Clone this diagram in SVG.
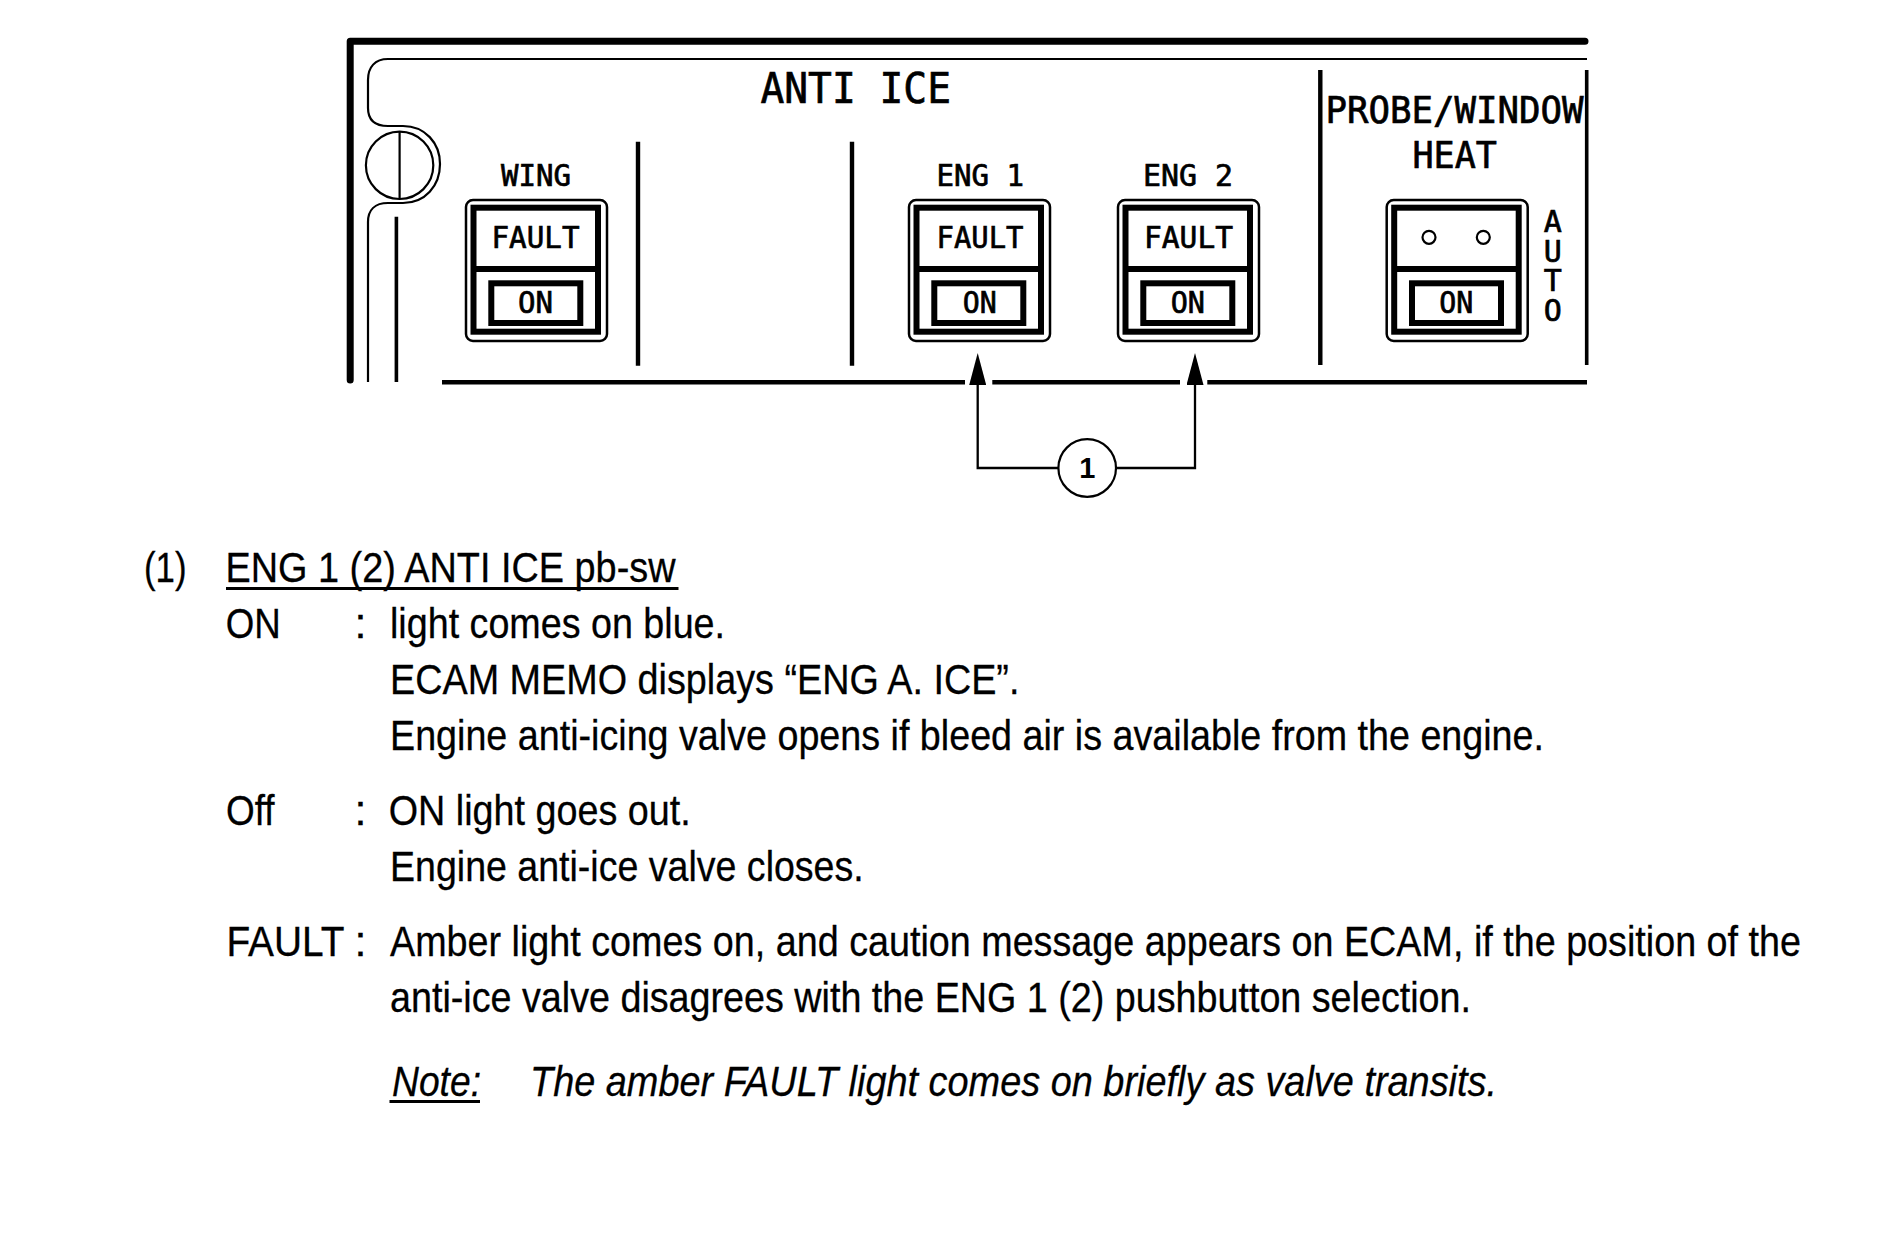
<svg xmlns="http://www.w3.org/2000/svg" xmlns:xlink="http://www.w3.org/1999/xlink" width="1881" height="1240" viewBox="0 0 1881 1240">
<style>
.panel{fill:none;stroke:#000;stroke-linecap:butt}
.thin{stroke-width:2.2}
.th3{stroke-width:3.6}
.th4{stroke-width:4.4}
.th7{stroke-width:7;stroke-linecap:round;stroke-linejoin:round}
.mono{font-family:"DejaVu Sans Mono","Liberation Mono",monospace;fill:#000;stroke:#000;stroke-width:.7}
.lab{font-size:30px}
.body{font-family:"Liberation Sans",Arial,sans-serif;font-size:43px;fill:#000;stroke:#000;stroke-width:.3}
.it{font-style:italic}
.frame{fill:#fff;stroke:#000;stroke-width:2.5}
.heavy{fill:none;stroke:#000;stroke-width:6}
.con{fill:none;stroke:#000;stroke-width:2.3}
</style>
<defs>
<g id="frame">
<rect class="frame" x="466" y="200" width="141" height="141" rx="7"/>
<rect class="heavy" x="473.5" y="207.7" width="124.5" height="124"/>
<path class="heavy" d="M473.5 269H598"/>
<rect class="heavy" x="491.3" y="283.3" width="89" height="39.7"/>
</g>
<marker id="arrow" viewBox="0 -8.5 32 17" refX="0" refY="0" markerUnits="userSpaceOnUse" markerWidth="32" markerHeight="17" orient="auto"><path d="M32 0L0 8.5V-8.5Z" fill="#000"/></marker>
</defs>
<rect width="1881" height="1240" fill="#fff"/>

<g id="panel">
<path class="panel th7" d="M1585 41.3H350.2V380"/>
<path class="panel thin" d="M1587 59H388C375 59 368 67 368 80V108C368 120 375 126 388 126H403C425 126 440 143 440 164C440 186 425 203 403 203H388C375 203 368 210 368 222V382"/>
<circle class="panel thin" cx="399.6" cy="165.3" r="33.7"/>
<path class="panel thin" d="M399.6 131.6V199"/>
<path class="panel th3" d="M396.4 216.7V382"/>
<path class="panel th4" d="M638 141.7V365.7M852 141.7V365.7M1320.3 70V365"/>
<path class="panel th3" d="M1586.7 70V365"/>
<path class="panel th4" d="M442 382.3H965M992.3 382.3H1180M1207.3 382.3H1587"/>
<text id="title" class="mono" x="760.5" y="103.3" font-size="43" textLength="190.5" lengthAdjust="spacingAndGlyphs">ANTI ICE</text>
</g>

<g id="wing">
<use xlink:href="#frame" href="#frame"/>
<text class="mono lab" x="501" y="186" textLength="70" lengthAdjust="spacingAndGlyphs">WING</text>
<text class="mono lab" x="491.5" y="248.3" textLength="88" lengthAdjust="spacingAndGlyphs">FAULT</text>
<text class="mono lab" x="518" y="313" textLength="35" lengthAdjust="spacingAndGlyphs">ON</text>
</g>
<g id="eng1">
<use xlink:href="#frame" href="#frame" x="443"/>
<text class="mono lab" x="936.5" y="186" textLength="87.5" lengthAdjust="spacingAndGlyphs">ENG 1</text>
<text class="mono lab" x="936.5" y="248.3" textLength="87" lengthAdjust="spacingAndGlyphs">FAULT</text>
<text class="mono lab" x="962.7" y="313" textLength="34" lengthAdjust="spacingAndGlyphs">ON</text>
</g>
<g id="eng2">
<use xlink:href="#frame" href="#frame" x="652"/>
<text class="mono lab" x="1143" y="186" textLength="90" lengthAdjust="spacingAndGlyphs">ENG 2</text>
<text class="mono lab" x="1144" y="248.3" textLength="89" lengthAdjust="spacingAndGlyphs">FAULT</text>
<text class="mono lab" x="1170.7" y="313" textLength="34.3" lengthAdjust="spacingAndGlyphs">ON</text>
</g>
<g id="probe">
<use xlink:href="#frame" href="#frame" x="920.7"/>
<circle class="panel thin" cx="1429" cy="237.3" r="6.5"/>
<circle class="panel thin" cx="1483.3" cy="237.3" r="6.5"/>
<text class="mono" x="1325.5" y="123.3" font-size="36.5" textLength="258" lengthAdjust="spacingAndGlyphs">PROBE/WINDOW</text>
<text class="mono" x="1412.5" y="168.3" font-size="36.5" textLength="84.5" lengthAdjust="spacingAndGlyphs">HEAT</text>
<text class="mono lab" x="1439.3" y="313" textLength="34" lengthAdjust="spacingAndGlyphs">ON</text>
<text class="mono lab" style="writing-mode:vertical-rl;text-orientation:upright;letter-spacing:-5.4px" x="1552.7" y="204">AUTO</text>
</g>

<g id="connectors">
<path class="con" d="M1058 468H977.7V385" marker-end="url(#arrow)"/>
<path class="con" d="M1116 468H1195V385" marker-end="url(#arrow)"/>
</g>
<g id="callout">
<circle cx="1087.2" cy="468" r="28.8" fill="#fff" stroke="#000" stroke-width="2.2"/>
<text x="1087.2" y="477.8" text-anchor="middle" font-family="'Liberation Sans',Arial,sans-serif" font-weight="700" font-size="29" fill="#000">1</text>
</g>

<g id="description">
<text class="body" x="144" y="581.7" textLength="42.6" lengthAdjust="spacingAndGlyphs">(1)</text>
<text class="body" x="225.5" y="581.7" textLength="450" lengthAdjust="spacingAndGlyphs">ENG 1 (2) ANTI ICE pb-sw</text>
<path d="M226 588.5H678.5" stroke="#000" stroke-width="3" fill="none"/>
<text class="body" x="225.8" y="638.3" textLength="55" lengthAdjust="spacingAndGlyphs">ON</text>
<text class="body" x="354.5" y="638.3">:</text>
<text class="body" x="390" y="638.3" textLength="335" lengthAdjust="spacingAndGlyphs">light comes on blue.</text>
<text class="body" x="390" y="693.5" textLength="629.4" lengthAdjust="spacingAndGlyphs">ECAM MEMO displays “ENG A. ICE”.</text>
<text class="body" x="390" y="750" textLength="1154" lengthAdjust="spacingAndGlyphs">Engine anti-icing valve opens if bleed air is available from the engine.</text>
<text class="body" x="226" y="825" textLength="48.5" lengthAdjust="spacingAndGlyphs">Off</text>
<text class="body" x="354.5" y="825">:</text>
<text class="body" x="388.7" y="825" textLength="302" lengthAdjust="spacingAndGlyphs">ON light goes out.</text>
<text class="body" x="390" y="880.7" textLength="473.7" lengthAdjust="spacingAndGlyphs">Engine anti-ice valve closes.</text>
<text class="body" x="226.5" y="956" textLength="118" lengthAdjust="spacingAndGlyphs">FAULT</text>
<text class="body" x="354.5" y="956">:</text>
<text class="body" transform="translate(390 956) scale(.86 1)" x="0" y="0" textLength="1640.7" lengthAdjust="spacingAndGlyphs">Amber light comes on, and caution message appears on ECAM, if the position of the</text>
<text class="body" x="390" y="1012.3" textLength="1081" lengthAdjust="spacingAndGlyphs">anti-ice valve disagrees with the ENG 1 (2) pushbutton selection.</text>
<text class="body it" x="392" y="1096" textLength="89" lengthAdjust="spacingAndGlyphs">Note:</text>
<path d="M389.5 1101.5H480" stroke="#000" stroke-width="3" fill="none"/>
<text class="body it" x="530" y="1096" textLength="967" lengthAdjust="spacingAndGlyphs">The amber FAULT light comes on briefly as valve transits.</text>
</g>
</svg>
